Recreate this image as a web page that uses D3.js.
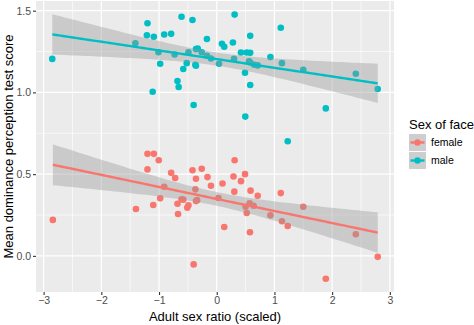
<!DOCTYPE html>
<html>
<head>
<meta charset="utf-8">
<script src="https://cdn.jsdelivr.net/npm/d3@7"></script>
<style>
  html, body { margin: 0; padding: 0; background: #fff; }
  svg { display: block; font-family: 'Liberation Sans', Arial, sans-serif; }
</style>
</head>
<body>
<svg id="chart" width="474" height="325"></svg>
<script>
'use strict';

// values
const femaleX = [-2.84, -1.40, -1.20, -1.09, -1.20, -1.005, -0.91, -0.98, -1.10, -0.79,
  -0.72, -0.68, -0.67, -0.61, -0.58, -0.51, -0.49, -0.42, -0.36, -0.37,
  -0.36, -0.34, -0.40, -0.26, -0.16, -0.10, 0.03, 0.10, 0.13, 0.29,
  0.31, 0.305, 0.42, 0.49, 0.586, 0.50, 0.52, 0.57, 0.64, 0.576,
  0.71, 0.93, 1.11, 1.13, 1.23, 1.50, 2.41, 2.79, 1.89];
const femaleY = [0.22, 0.287, 0.624, 0.624, 0.529, 0.585, 0.423, 0.352, 0.311, 0.508,
  0.476, 0.319, 0.256, 0.346, 0.344, 0.295, 0.309, 0.524, 0.472, 0.407,
  0.335, 0.341, -0.052, 0.533, 0.482, 0.429, 0.354, 0.443, 0.177, 0.486,
  0.585, 0.393, 0.457, 0.50, 0.399, 0.301, 0.262, 0.321, 0.307, 0.145,
  0.368, 0.248, 0.384, 0.212, 0.183, 0.301, 0.132, -0.006, -0.140];

const maleX = [-2.85, -1.41, -1.20, -1.21, -1.09, -0.91, -0.79, -0.61, -0.42, -1.01,
  -0.98, -1.11, -0.68, -0.66, -0.58, -0.52, -0.49, -0.73, -0.36, -0.33,
  -0.37, -0.36, -0.40, -0.26, -0.17, -0.17, -0.10, 0.04, 0.09, 0.13,
  0.28, 0.31, 0.30, 0.42, 0.52, 0.58, 0.58, 0.49, 0.58, 0.56,
  0.58, 0.65, 0.71, 0.93, 1.11, 1.13, 1.50, 2.41, 2.79, 1.89,
  1.23, 0.495];
const maleY = [1.205, 1.30, 1.423, 1.35, 1.34, 1.354, 1.358, 1.463, 1.443, 1.246,
  1.175, 1.004, 1.069, 1.033, 1.143, 1.179, 1.246, 1.232, 1.265, 1.268,
  1.169, 1.163, 0.923, 1.246, 1.327, 1.224, 1.207, 1.175, 1.297, 1.279,
  1.305, 1.476, 1.205, 1.244, 1.244, 1.242, 1.346, 1.12, 1.045, 1.19,
  1.183, 1.169, 1.165, 1.216, 1.395, 1.179, 1.138, 1.114, 1.021, 0.902,
  0.701, 0.852];

const groups = ['female', 'male'];
const groupColors = ['#F8766D', '#00BFC4'];
const xTicks = [-3, -2, -1, 0, 1, 2, 3];
const yTicks = [0, 0.5, 1, 1.5];

const panel = { left: 36, right: 394, top: 1, bottom: 292 };

// lm fit with 95% confidence band, like geom_smooth(method = 'lm')
const tQuantile = (df) => {
  const z = 1.959964;
  return z + (z ** 3 + z) / (4 * df) +
    (5 * z ** 5 + 16 * z ** 3 + 3 * z) / (96 * df * df);
};

const fitLm = (xs, ys) => {
  const n = xs.length;
  const mx = d3.mean(xs);
  const my = d3.mean(ys);
  const sxx = d3.sum(xs, (x) => (x - mx) ** 2);
  const sxy = d3.sum(xs, (x, i) => (x - mx) * (ys[i] - my));
  const b = sxy / sxx;
  const a = my - b * mx;
  const rss = d3.sum(xs, (x, i) => (ys[i] - a - b * x) ** 2);
  const s = Math.sqrt(rss / (n - 2));
  const t = tQuantile(n - 2);
  const [x0, x1] = d3.extent(xs);
  return d3.range(80).map((i) => {
    const x = x0 + ((x1 - x0) * i) / 79;
    const y = a + b * x;
    const se = s * Math.sqrt(1 / n + (x - mx) ** 2 / sxx);
    return { x, y, lo: y - t * se, hi: y + t * se };
  });
};

const series = [
  { key: groups[0], color: groupColors[0], xs: femaleX, ys: femaleY },
  { key: groups[1], color: groupColors[1], xs: maleX, ys: maleY },
].map((g) => Object.assign(g, { fit: fitLm(g.xs, g.ys) }));

// scale domains trained on points and ribbons, expanded 5%
const expand = ([a, b]) => [a - (b - a) * 0.05, b + (b - a) * 0.05];
const allX = series.flatMap((g) => g.xs);
const allY = series.flatMap((g) =>
  g.ys.concat(g.fit.map((d) => d.lo), g.fit.map((d) => d.hi))
);

const x = d3.scaleLinear().domain(expand(d3.extent(allX)))
  .range([panel.left, panel.right]);
const y = d3.scaleLinear().domain(expand(d3.extent(allY)))
  .range([panel.bottom, panel.top]);

const svg = d3.select('#chart');

svg.append('rect')
  .attr('x', panel.left).attr('y', panel.top)
  .attr('width', panel.right - panel.left)
  .attr('height', panel.bottom - panel.top)
  .attr('fill', '#EBEBEB');

const mid = (ticks) => ticks.slice(1).map((t, i) => (t + ticks[i]) / 2);
const xMinor = mid([-4].concat(xTicks, [4])).filter((v) => x(v) > panel.left && x(v) < panel.right);
const yMinor = mid([-0.5].concat(yTicks, [2])).filter((v) => y(v) > panel.top && y(v) < panel.bottom);

const grid = svg.append('g').attr('stroke', '#fff').attr('fill', 'none');

grid.selectAll('.xminor').data(xMinor).enter().append('line')
  .attr('x1', x).attr('x2', x)
  .attr('y1', panel.top).attr('y2', panel.bottom)
  .attr('stroke-width', 0.6);
grid.selectAll('.yminor').data(yMinor).enter().append('line')
  .attr('y1', y).attr('y2', y)
  .attr('x1', panel.left).attr('x2', panel.right)
  .attr('stroke-width', 0.6);
grid.selectAll('.xmajor').data(xTicks).enter().append('line')
  .attr('x1', x).attr('x2', x)
  .attr('y1', panel.top).attr('y2', panel.bottom)
  .attr('stroke-width', 1.2);
grid.selectAll('.ymajor').data(yTicks).enter().append('line')
  .attr('y1', y).attr('y2', y)
  .attr('x1', panel.left).attr('x2', panel.right)
  .attr('stroke-width', 1.2);

// points first, smooth on top of them
series.forEach((g) => {
  svg.append('g').selectAll('circle')
    .data(g.xs.map((v, i) => [v, g.ys[i]]))
    .enter().append('circle')
    .attr('cx', (d) => x(d[0]))
    .attr('cy', (d) => y(d[1]))
    .attr('r', 3.3)
    .attr('fill', g.color);
});

series.forEach((g) => {
  svg.append('path')
    .datum(g.fit)
    .attr('fill', '#999999')
    .attr('fill-opacity', 0.4)
    .attr('d', d3.area().x((d) => x(d.x)).y0((d) => y(d.lo)).y1((d) => y(d.hi)));
  svg.append('path')
    .datum(g.fit)
    .attr('fill', 'none')
    .attr('stroke', g.color)
    .attr('stroke-width', 2.4)
    .attr('d', d3.line().x((d) => x(d.x)).y((d) => y(d.y)));
});

// axes
const xAxis = svg.append('g')
  .attr('transform', `translate(0,${panel.bottom})`)
  .call(d3.axisBottom(x).tickValues(xTicks).tickSize(3).tickPadding(2)
    .tickFormat(d3.format('d')));
const yAxis = svg.append('g')
  .attr('transform', `translate(${panel.left},0)`)
  .call(d3.axisLeft(y).tickValues(yTicks).tickSize(3).tickPadding(2)
    .tickFormat(d3.format('.1f')));

[xAxis, yAxis].forEach((a) => {
  a.select('.domain').remove();
  a.selectAll('.tick line').attr('stroke', '#333333').attr('stroke-width', 1.1);
  a.selectAll('.tick text')
    .attr('fill', '#4D4D4D')
    .style('font-size', '10.5px')
    .style('font-family', "'Liberation Sans', Arial, sans-serif");
});

svg.append('text')
  .attr('x', (panel.left + panel.right) / 2)
  .attr('y', 321)
  .attr('text-anchor', 'middle')
  .style('font-size', '13px')
  .text('Adult sex ratio (scaled)');

svg.append('text')
  .attr('transform', `translate(13,${(panel.top + panel.bottom) / 2}) rotate(-90)`)
  .attr('text-anchor', 'middle')
  .style('font-size', '13px')
  .text('Mean dominance perception test score');

// legend
const legend = svg.append('g').attr('transform', 'translate(409,0)');

legend.append('text')
  .attr('x', 0).attr('y', 129)
  .style('font-size', '13px')
  .text('Sex of face');

const keys = legend.selectAll('.key').data(series).enter().append('g')
  .attr('transform', (d, i) => `translate(0,${134 + i * 18})`);

keys.append('rect')
  .attr('width', 17).attr('height', 17)
  .attr('fill', '#F2F2F2');
keys.append('rect')
  .attr('width', 17).attr('height', 17)
  .attr('fill', '#999999').attr('fill-opacity', 0.4);
keys.append('line')
  .attr('x1', 1.5).attr('x2', 15.5)
  .attr('y1', 8.5).attr('y2', 8.5)
  .attr('stroke', (d) => d.color)
  .attr('stroke-width', 2.4);
keys.append('circle')
  .attr('cx', 8.5).attr('cy', 8.5).attr('r', 3.2)
  .attr('fill', (d) => d.color);
keys.append('text')
  .attr('x', 22).attr('y', 12.3)
  .style('font-size', '10.5px')
  .text((d) => d.key);
</script>
</body>
</html>
